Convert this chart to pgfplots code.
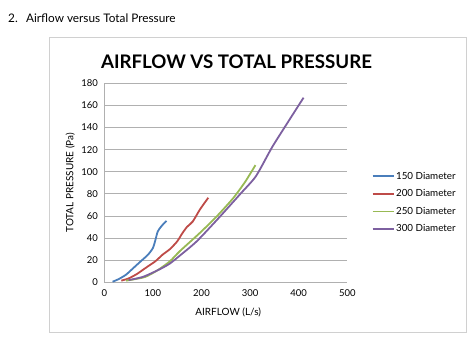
\documentclass[border=0pt]{standalone}
\usepackage{pgfplots}
\pgfplotsset{compat=1.18}
\usepackage{fontspec}
\setmainfont{Lato}
\definecolor{s1}{HTML}{4A7EBB}
\definecolor{s2}{HTML}{BE4B48}
\definecolor{s3}{HTML}{98B954}
\definecolor{s4}{HTML}{7D60A0}
\definecolor{gridc}{HTML}{B0B0B0}
\definecolor{framec}{HTML}{D0D0D0}
\begin{document}
\begin{tikzpicture}[x=1bp,y=1bp]
\path[use as bounding box] (0,0) rectangle (474,355);
\draw[framec, line width=0.8bp] (49,23) rectangle (466,318);
\node[anchor=base west, inner sep=0pt, font=\fontsize{11.8bp}{13bp}\selectfont] at (8,333) {2.\hspace{0.7em}Airflow versus Total Pressure};
\node[anchor=base, font=\fontsize{18.7bp}{21bp}\selectfont\bfseries] at (236.5,287) {AIRFLOW VS TOTAL PRESSURE};
\begin{axis}[
  at={(104.3bp,72.7bp)}, anchor=south west,
  scale only axis, width=243bp, height=199bp,
  xmin=0, xmax=500, ymin=0, ymax=180,
  xtick={0,100,...,500}, ytick={0,20,...,180},
  axis lines*=left,
  axis line style={draw=gridc, line width=0.8bp, -},
  ymajorgrids, grid style={draw=gridc, line width=0.8bp},
  major tick length=0pt,
  /pgf/number format/assume math mode=true,
  tick label style={font=\fontsize{9.5bp}{11bp}\selectfont},
  xticklabel style={yshift=-4bp},
  yticklabel style={xshift=-3bp},
  label style={font=\fontsize{9.8bp}{11bp}\selectfont},
  xlabel={AIRFLOW (L/s)},
  ylabel={TOTAL PRESSURE (Pa)},
  every axis x label/.style={at={(axis description cs:0.51,-0.15)}, anchor=center},
  every axis y label/.style={at={(axis description cs:-0.14,0.5)}, rotate=90, anchor=center},
  clip=false,
  legend style={at={(axis description cs:1.10,0.40)}, anchor=west, draw=none, fill=none,
    font=\fontsize{9.8bp}{11bp}\selectfont, row sep=5bp, inner sep=0pt,
    nodes={inner xsep=1.5bp}},
  legend cell align=left,
  legend image code/.code={\draw[#1, line width=1.8bp] (0bp,0bp) -- (21bp,0bp);},
  every axis plot/.append style={line width=1.8bp, smooth, tension=0.4, no markers},
]
\addplot[s1] coordinates {(17,0.5)(30,3)(45,7)(60,13)(75,19)(90,25)(100,31)(105,38)(110,46)(118,51)(128,55.5)};
\addlegendentry{150 Diameter}
\addplot[s2] coordinates {(35,1.5)(50,3.5)(67,7.5)(85,13)(105,19)(120,25)(135,30)(150,37)(160,44)(170,50)(182,55)(197,66)(214,76.5)};
\addlegendentry{200 Diameter}
\addplot[s3] coordinates {(45,1.5)(65,3)(85,5)(110,11)(135,19)(155,28)(195,44)(230,59)(265,76)(290,91)(311,106)};
\addlegendentry{250 Diameter}
\addplot[s4] coordinates {(50,2)(80,5)(115,12)(135,17)(155,24)(190,37)(235,58)(280,80)(312,96)(345,122)(378,145)(410,167)};
\addlegendentry{300 Diameter}
\end{axis}
\end{tikzpicture}
\end{document}
